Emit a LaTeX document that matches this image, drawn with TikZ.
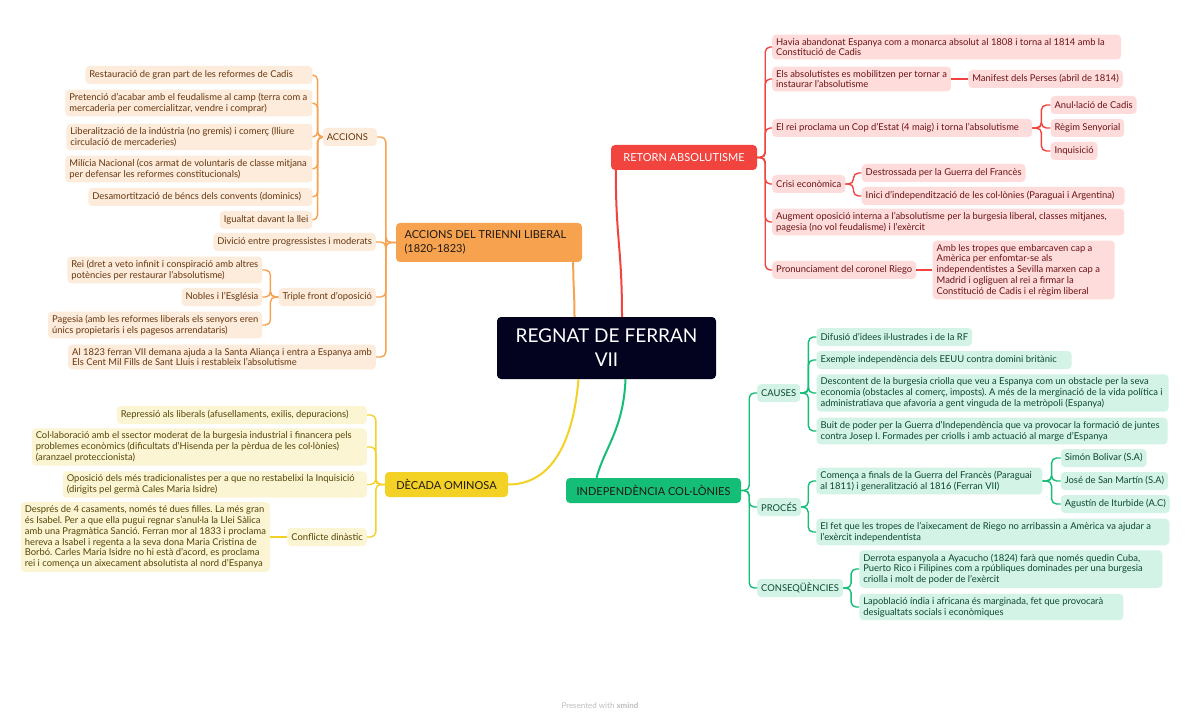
\documentclass[tikz,border=0pt]{standalone}
\usepackage{fontspec}
\setmainfont{Lato}
\usetikzlibrary{calc}
\definecolor{redM}{HTML}{F2443E}
\definecolor{redL}{HTML}{FFDCDC}
\definecolor{redT}{HTML}{6A1212}
\definecolor{orM}{HTML}{F7A24F}
\definecolor{orL}{HTML}{FDEBDB}
\definecolor{orT}{HTML}{66370F}
\definecolor{yeM}{HTML}{F4D125}
\definecolor{yeL}{HTML}{FCF5D4}
\definecolor{yeT}{HTML}{554306}
\definecolor{grM}{HTML}{14BE76}
\definecolor{grL}{HTML}{D3F3E6}
\definecolor{grT}{HTML}{0C4830}
\definecolor{navy}{HTML}{03031F}
\definecolor{darkT}{HTML}{1E1A16}
\newcommand{\md}{\kern0pt·\kern0pt}
\newcommand{\fl}[2]{\sbox0{#2}\ifdim\wd0<\dimexpr#1pt-8pt\relax\makebox[\dimexpr#1pt-8pt\relax][l]{\usebox0}\else\usebox0\fi}
\frenchspacing
\begin{document}
\begin{tikzpicture}[x=1pt,y=-1pt,
 leaf/.style={rounded corners=4pt, inner xsep=4pt, inner ysep=3.5pt, minimum height=18pt, align=left, font=\fontsize{9.4}{10.8}\selectfont},
 rl/.style={leaf, fill=redL, text=redT},
 ol/.style={leaf, fill=orL, text=orT},
 yl/.style={leaf, fill=yeL, text=yeT},
 gl/.style={leaf, fill=grL, text=grT},
 mainnode/.style={rounded corners=4pt, inner sep=0pt, font=\fontsize{11}{14}\selectfont},
 rootnode/.style={rounded corners=4pt, fill=navy, text=white, minimum width=219pt, minimum height=62pt, align=center, font=\fontsize{19}{24}\selectfont},
 rline/.style={draw=redM, line width=1.4pt, rounded corners=5pt},
 oline/.style={draw=orM, line width=1.4pt, rounded corners=5pt},
 yline/.style={draw=yeM, line width=1.4pt, rounded corners=5pt},
 gline/.style={draw=grM, line width=1.4pt, rounded corners=5pt},
]
\useasboundingbox (0,0) rectangle (1200,722);
\fill[white] (0,0) rectangle (1200,722);

% main nodes
\node[rootnode] (root) at (606.5,348) {REGNAT DE FERRAN\\VII};
\node[mainnode, fill=redM, text=white, minimum width=146pt, minimum height=25pt] (ret) at (684,157.5) {RETORN ABSOLUTISME};
\node[mainnode, fill=orM, text=darkT, minimum width=186pt, minimum height=39pt, align=left] (acc) at (489,242.5) {\fl{177}{ACCIONS DEL TRIENNI LIBERAL}\\(1820-1823)};
\node[mainnode, fill=yeM, text=darkT, minimum width=123pt, minimum height=25pt] (dec) at (446.5,484.5) {DÈCADA OMINOSA};
\node[mainnode, fill=grM, text=darkT, minimum width=175pt, minimum height=25pt] (ind) at (653.5,490.5) {INDEPENDÈNCIA COL\md LÒNIES};

% main connectors
\draw[line width=2pt, draw=redM] ($(root.north)+(15.5,0)$) .. controls +(0,-70) and +(0,70) .. ($(ret.south west)+(5,0)$);
\draw[line width=2pt, draw=orM] ($(root.north)+(-32,0)$) .. controls +(0,-25) and +(0,25) .. ($(acc.south east)+(-9,0)$);
\draw[line width=2pt, draw=yeM] ($(root.south)+(-28,0)$) .. controls +(-5,60) and +(45,0) .. (dec.east);
\draw[line width=2pt, draw=grM] ($(root.south)+(19,0)$) .. controls +(-2,50) and +(8,-30) .. ($(ind.north)+(-57,0)$);

% ---- RETORN ABSOLUTISME ----
\node[rl, anchor=west] (r1) at (772,47) {\fl{349}{Havia abandonat Espanya com a monarca absolut al 1808 i torna al 1814 amb la}\\Constitució de Cadis};
\node[rl, anchor=west] (r2) at (772,79) {\fl{175}{Els absolutistes es mobilitzen per tornar a}\\instaurar l'absolutisme};
\node[rl, anchor=west] (r3) at (772,128) {\fl{260}{El rei proclama un Cop d'Estat (4 maig) i torna l'absolutisme}};
\node[rl, anchor=west] (r4) at (772,184) {\fl{73}{Crisi econòmica}};
\node[rl, anchor=west] (r5) at (772,222) {\fl{352}{Augment oposició interna a l'absolutisme per la burgesia liberal, classes mitjanes,}\\pagesia (no vol feudalisme) i l'exèrcit};
\node[rl, anchor=west] (r6) at (772,270) {\fl{138}{Pronunciament del coronel Riego}};
\node[rl, anchor=west] (r2a) at ($(r2.east)+(17,0)$) {\fl{146}{Manifest dels Perses (abril de 1814)}};
\node[rl, anchor=west] (r3a) at ($(r3.east)+(18,-23)$) {\fl{84}{Anul\md lació de Cadis}};
\node[rl, anchor=west] (r3b) at ($(r3.east)+(18,0)$) {\fl{70}{Règim Senyorial}};
\node[rl, anchor=west] (r3c) at ($(r3.east)+(18,23)$) {\fl{42}{Inquisició}};
\node[rl, anchor=west] (r4a) at ($(r4.east)+(16,-11)$) {\fl{158}{Destrossada per la Guerra del Francès}};
\node[rl, anchor=west] (r4b) at ($(r4.east)+(16,12)$) {\fl{263}{Inici d'independització de les col\md lònies (Paraguai i Argentina)}};
\node[rl, anchor=west] (r6a) at ($(r6.east)+(16,0)$) {\fl{182}{Amb les tropes que embarcaven cap a}\\Amèrica per enfomtar-se als\\independentistes a Sevilla marxen cap a\\Madrid i ogliguen al rei a firmar la\\Constitució de Cadis i el règim liberal};
\foreach \c in {r1,r2,r3,r4,r5,r6} \draw[rline] (ret.east) -- ++(8,0) |- (\c.west);
\draw[rline] (r2.east) -- (r2a.west);
\foreach \c in {r3a,r3b,r3c} \draw[rline] (r3.east) -- ++(9,0) |- (\c.west);
\foreach \c in {r4a,r4b} \draw[rline] (r4.east) -- ++(8,0) |- (\c.west);
\draw[rline] (r6.east) -- (r6a.west);

% ---- ACCIONS DEL TRIENNI ----
\node[ol, anchor=east] (a1) at (377,137) {\fl{54}{ACCIONS}};
\node[ol, anchor=east] (a2) at (376,242) {\fl{156}{Divició entre progressistes i moderats}};
\node[ol, anchor=east] (a3) at (376,297) {\fl{95}{Triple front d'oposició}};
\node[ol, anchor=east] (a4) at (376,357) {\fl{298}{Al 1823 ferran VII demana ajuda a la Santa Aliança i entra a Espanya amb}\\Els Cent Mil Fills de Sant Lluis i restableix l'absolutisme};
\node[ol, anchor=east] (a1a) at ($(a1.west)+(-10,-62)$) {\fl{227}{Restauració de gran part de les reformes de Cadis}};
\node[ol, anchor=east] (a1b) at ($(a1.west)+(-10,-34)$) {\fl{247}{Pretenció d'acabar amb el feudalisme al camp (terra com a}\\mercaderia per comercialitzar, vendre i comprar)};
\node[ol, anchor=east] (a1c) at ($(a1.west)+(-10,0)$) {\fl{246}{Liberalització de la indústria (no gremis) i comerç (lliure}\\circulació de mercaderies)};
\node[ol, anchor=east] (a1d) at ($(a1.west)+(-10,32)$) {\fl{247}{Milícia Nacional (cos armat de voluntaris de classe mitjana}\\per defensar les reformes constitucionals)};
\node[ol, anchor=east] (a1e) at ($(a1.west)+(-10,60)$) {\fl{224}{Desamortització de béncs dels convents (dominics)}};
\node[ol, anchor=east] (a1f) at ($(a1.west)+(-10,83)$) {\fl{90}{Igualtat davant la llei}};
\node[ol, anchor=east] (a3a) at ($(a3.west)+(-16,-27)$) {\fl{192}{Rei (dret a veto infinit i conspiració amb altres}\\potències per restaurar l'absolutisme)};
\node[ol, anchor=east] (a3b) at ($(a3.west)+(-16,0)$) {\fl{78}{Nobles i l'Església}};
\node[ol, anchor=east] (a3c) at ($(a3.west)+(-16,28)$) {\fl{212}{Pagesia (amb les reformes liberals els senyors eren}\\únics propietaris i els pagesos arrendataris)};
\foreach \c in {a1,a2,a3,a4} \draw[oline] (acc.west) -- ++(-10,0) |- (\c.east);
\foreach \c in {a1a,a1b,a1c,a1d,a1e,a1f} \draw[oline] (a1.west) -- ++(-5,0) |- (\c.east);
\foreach \c in {a3a,a3b,a3c} \draw[oline] (a3.west) -- ++(-8,0) |- (\c.east);

% ---- DECADA OMINOSA ----
\node[yl, anchor=east] (d1) at (367,415) {\fl{250}{Repressió als liberals (afusellaments, exilis, depuracions)}};
\node[yl, anchor=east] (d2) at (367,447) {\fl{335}{Col\md laboració amb el ssector moderat de la burgesia industrial i financera pels}\\problemes econòmics (dificultats d'Hisenda per la pèrdua de les col\md lònies)\\(aranzael proteccionista)};
\node[yl, anchor=east] (d3) at (367,484.5) {\fl{304}{Oposició dels més tradicionalistes per a que no restabelixi la Inquisició}\\(dirigits pel germà Cales Maria Isidre)};
\node[yl, anchor=east] (d4) at (367,537) {\fl{78}{Conflicte dinàstic}};
\node[yl, anchor=east] (d4a) at ($(d4.west)+(-17,0)$) {\fl{240}{Després de 4 casaments, només té dues filles. La més gran}\\és Isabel. Per a que ella pugui regnar s'anul\md la la Llei Sàlica\\amb una Pragmàtica Sanció. Ferran mor al 1833 i proclama\\hereva a Isabel i regenta a la seva dona Maria Cristina de\\Borbó. Carles Maria Isidre no hi està d'acord, es proclama\\rei i comença un aixecament absolutista al nord d'Espanya};
\foreach \c in {d1,d2,d3,d4} \draw[yline] (dec.west) -- ++(-9,0) |- (\c.east);
\draw[yline] (d4.west) -- (d4a.east);

% ---- INDEPENDENCIA ----
\node[gl, anchor=west] (g1) at (757,393) {\fl{41}{CAUSES}};
\node[gl, anchor=west] (g2) at (757,507) {\fl{42}{PROCÉS}};
\node[gl, anchor=west] (g3) at (757,588) {\fl{79}{CONSEQÜÈNCIES}};
\node[gl, anchor=west] (g1a) at ($(g1.east)+(16,-56)$) {\fl{148}{Difusió d'idees il\md lustrades i de la RF}};
\node[gl, anchor=west] (g1b) at ($(g1.east)+(16,-33)$) {\fl{255}{Exemple independència dels EEUU contra domini britànic}};
\node[gl, anchor=west] (g1c) at ($(g1.east)+(16,0)$) {\fl{352}{Descontent de la burgesia criolla que veu a Espanya com un obstacle per la seva}\\economia (obstacles al comerç, imposts). A més de la merginació de la vida política i\\administratiava que afavoria a gent vinguda de la metròpoli (Espanya)};
\node[gl, anchor=west] (g1d) at ($(g1.east)+(16,38)$) {\fl{351}{Buit de poder per la Guerra d'Independència que va provocar la formació de juntes}\\contra Josep I. Formades per criolls i amb actuació al marge d'Espanya};
\node[gl, anchor=west] (g2a) at ($(g2.east)+(15,-26)$) {\fl{226}{Comença a finals de la Guerra del Francès (Paraguai}\\al 1811) i generalització al 1816 (Ferran VII)};
\node[gl, anchor=west] (g2b) at ($(g2.east)+(15,25)$) {\fl{353}{El fet que les tropes de l'aixecament de Riego no arribassin a Amèrica va ajudar a}\\l'exèrcit independentista};
\node[gl, anchor=west] (g2a1) at ($(g2a.east)+(18,-23)$) {\fl{81}{Simón Bolivar (S.A)}};
\node[gl, anchor=west] (g2a2) at ($(g2a.east)+(18,0)$) {\fl{104}{José de San Martín (S.A)}};
\node[gl, anchor=west] (g2a3) at ($(g2a.east)+(18,23)$) {\fl{106}{Agustín de Iturbide (A.C)}};
\node[gl, anchor=west] (g3a) at ($(g3.east)+(16,-19)$) {\fl{303}{Derrota espanyola a Ayacucho (1824) farà que només quedin Cuba,}\\Puerto Rico i Filipines com a rpúbliques dominades per una burgesia\\criolla i molt de poder de l'exèrcit};
\node[gl, anchor=west] (g3b) at ($(g3.east)+(16,19)$) {\fl{264}{Lapoblació índia i africana és marginada, fet que provocarà}\\desigualtats socials i econòmiques};
\foreach \c in {g1,g2,g3} \draw[gline] (ind.east) -- ++(8,0) |- (\c.west);
\foreach \c in {g1a,g1b,g1c,g1d} \draw[gline] (g1.east) -- ++(8,0) |- (\c.west);
\foreach \c in {g2a,g2b} \draw[gline] (g2.east) -- ++(7,0) |- (\c.west);
\foreach \c in {g2a1,g2a2,g2a3} \draw[gline] (g2a.east) -- ++(9,0) |- (\c.west);
\foreach \c in {g3a,g3b} \draw[gline] (g3.east) -- ++(8,0) |- (\c.west);

% footer
\node[text=black!25, font=\fontsize{8}{10}\selectfont] (foot) at (600,706) {Presented with \textbf{xmind}};
\end{tikzpicture}
\end{document}
